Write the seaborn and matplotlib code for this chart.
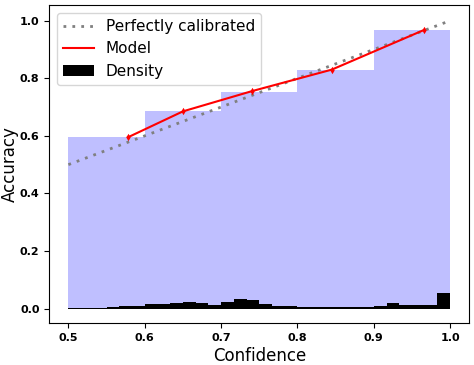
import numpy as np
import matplotlib
matplotlib.use("Agg")
import matplotlib.pyplot as plt
import seaborn as sns

# Accuracy per confidence bin (5 bins)
acc_edges = [0.5, 0.6, 0.7, 0.8, 0.9, 1.0]
acc_values = [0.595, 0.685, 0.752, 0.830, 0.968]

# Model points
model_conf = [0.578, 0.650, 0.740, 0.845, 0.966]
model_acc = [0.595, 0.685, 0.755, 0.830, 0.968]

# Density (30 bins)
dens_values = [0.002, 0.002, 0.002, 0.004, 0.010, 0.010, 0.017, 0.017, 0.020, 0.023,
               0.018, 0.014, 0.024, 0.034, 0.031, 0.016, 0.010, 0.010, 0.007, 0.007,
               0.007, 0.005, 0.005, 0.005, 0.010, 0.019, 0.014, 0.011, 0.014, 0.055]

fig, ax = plt.subplots(figsize=(4.74, 3.65), dpi=100)

acc_centers = [(a + b) / 2 for a, b in zip(acc_edges[:-1], acc_edges[1:])]
sns.histplot(x=acc_centers, weights=acc_values, bins=acc_edges, ax=ax,
             color=(0.75, 0.75, 1.0), alpha=1.0, edgecolor="none", linewidth=0,
             element="bars", stat="count")

dens_edges = list(np.linspace(0.5, 1.0, len(dens_values) + 1))
dens_centers = [(a + b) / 2 for a, b in zip(dens_edges[:-1], dens_edges[1:])]
sns.histplot(x=dens_centers, weights=dens_values, bins=dens_edges, ax=ax,
             color="black", alpha=1.0, edgecolor="none", linewidth=0,
             element="bars", stat="count", label="Density")

ax.plot([0.5, 1.0], [0.5, 1.0], linestyle=(0, (1, 2.2)), color="gray", linewidth=2,
        label="Perfectly calibrated")
sns.lineplot(x=model_conf, y=model_acc, ax=ax, color="red", linewidth=1.5, label="Model")
sns.scatterplot(x=model_conf, y=model_acc, ax=ax, color="red", marker="d", s=14,
                linewidth=0, zorder=5)

ax.set_xlim(0.475, 1.025)
ax.set_ylim(-0.05, 1.054)
ax.set_xlabel("Confidence", fontsize=12, labelpad=3)
ax.set_ylabel("Accuracy", fontsize=12, labelpad=1)
ax.tick_params(labelsize=8)
ax.set_xticks([0.5, 0.6, 0.7, 0.8, 0.9, 1.0])
ax.set_yticks([0.0, 0.2, 0.4, 0.6, 0.8, 1.0])
for lab in ax.get_xticklabels() + ax.get_yticklabels():
    lab.set_fontweight("bold")

handles, labels = ax.get_legend_handles_labels()
order = [labels.index("Perfectly calibrated"), labels.index("Model"), labels.index("Density")]
ax.legend([handles[i] for i in order], [labels[i] for i in order], loc="upper left",
          fontsize=11)

fig.subplots_adjust(left=0.104, right=0.99, top=0.986, bottom=0.115)
fig.savefig("out.png", dpi=100)
